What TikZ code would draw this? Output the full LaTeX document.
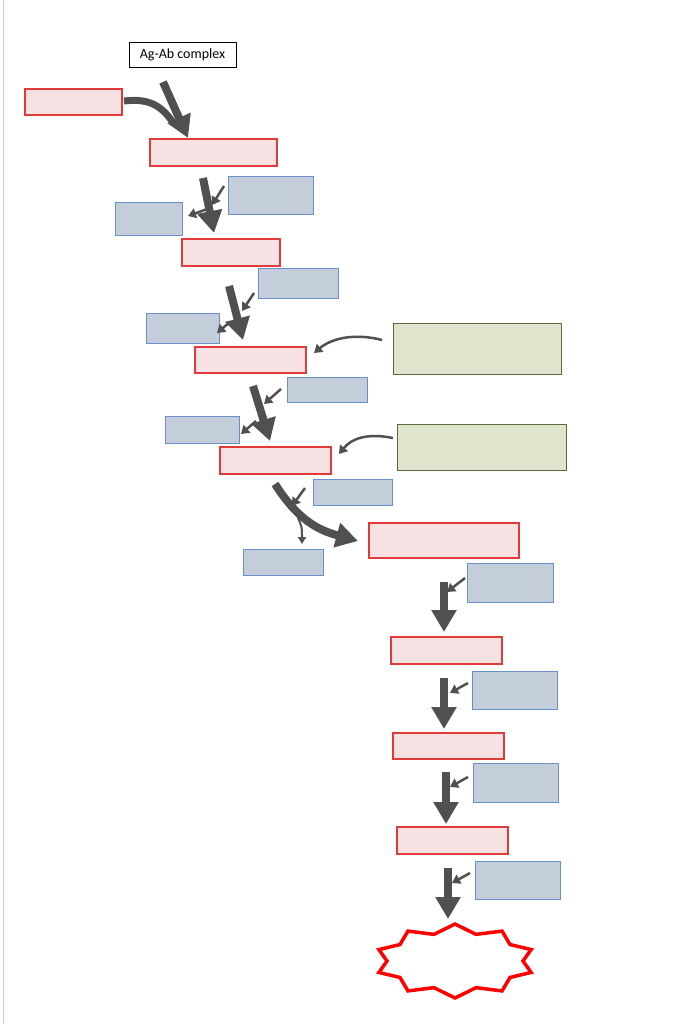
\documentclass[tikz,border=0pt]{standalone}
\usepackage{fontspec}
\setmainfont{Carlito}
\usetikzlibrary{arrows.meta}
\definecolor{rf}{HTML}{F6E2E2}\definecolor{rd}{HTML}{E03A3A}
\definecolor{bf}{HTML}{C4CDDA}\definecolor{bd}{HTML}{6A90CC}
\definecolor{gf}{HTML}{DFE4CC}\definecolor{gd}{HTML}{5B6B3B}
\definecolor{ar}{HTML}{505050}
\begin{document}
\begin{tikzpicture}[x=1pt,y=-1pt,
 rbox/.style={draw=rd,fill=rf,line width=1.2pt},
 bbox/.style={draw=bd,fill=bf,line width=1pt},
 gbox/.style={draw=gd,fill=gf,line width=1pt},
 big/.style={draw=ar,line width=8pt,-{Triangle[width=24pt,length=22pt]}},
 small/.style={draw=ar,line width=2.5pt,-{Triangle[width=10pt,length=8pt]}}]
\useasboundingbox (0,0) rectangle (692,1024);
\draw[gray!40,line width=1pt] (3,0)--(3,1024);
\node[draw,line width=0.8pt,minimum width=107pt,minimum height=25pt,inner sep=0pt,font=\fontsize{14}{16}\selectfont] (ag) at (182.5,54.5) {Ag-Ab complex};
\newcommand{\bx}[6]{\path[#1] (#3,#4) rectangle (#5,#6) coordinate (#2);}
\bx{rbox}{r1}{25}{89}{122}{115}
\bx{rbox}{r2}{150}{139}{277}{166}
\bx{bbox}{b1}{228}{177}{313}{215}
\bx{bbox}{b2}{115}{203}{182}{235}
\bx{rbox}{r3}{182}{239}{280}{266}
\bx{bbox}{b3}{258}{268}{338}{298}
\bx{bbox}{b4}{146}{313}{219}{343}
\bx{rbox}{r4}{195}{347}{306}{373}
\bx{gbox}{g1}{393}{323}{561}{374}
\bx{bbox}{b5}{287}{377}{367}{402}
\bx{bbox}{b6}{165}{416}{239}{443}
\bx{rbox}{r5}{220}{447}{331}{474}
\bx{gbox}{g2}{397}{424}{566}{470}
\bx{bbox}{b7}{313}{479}{392}{505}
\bx{rbox}{r6}{369}{523}{519}{558}
\bx{bbox}{b8}{243}{549}{323}{575}
\bx{bbox}{b9}{467}{563}{553}{602}
\bx{rbox}{r7}{391}{637}{502}{664}
\bx{bbox}{b10}{472}{671}{557}{709}
\bx{rbox}{r8}{393}{733}{504}{759}
\bx{bbox}{b11}{473}{763}{558}{802}
\bx{rbox}{r9}{397}{827}{508}{854}
\bx{bbox}{b12}{475}{861}{560}{899}
% arrows
\draw[ar,line width=7pt] (124,101) .. controls (150,98) and (162,106) .. (174,124);
\draw[big] (163,82)--(188,138);
\draw[big] (203,178)--(214,233);
\draw[small] (224,186)--(212,205);
\draw[small] (210,208)--(188,216);
\draw[big] (229,286)--(243,340);
\draw[small] (254,293)--(242,311);
\draw[small] (230,322)--(217,333);
\draw[big] (253,386)--(270,441);
\draw[small] (281,389)--(264,404);
\draw[small] (256,421)--(241,434);
\draw[small] (382,340) .. controls (355,333) and (332,338) .. (314,353);
\draw[small] (393,438) .. controls (368,433) and (352,438) .. (339,454);
\draw[ar,line width=8pt,-{Triangle[width=24pt,length=22pt]}] (275,484) .. controls (298,520) and (318,530) .. (358,541);
\draw[small] (305,488)--(292,506);
\draw[ar,line width=2pt,-{Triangle[width=8pt,length=7pt]}] (298,518) .. controls (302,527) .. (302,544);
\draw[big] (444,582)--(444,632);
\draw[small] (465,578)--(447,592);
\draw[big] (444,678)--(444,729);
\draw[small] (468,683)--(450,693);
\draw[big] (446,772)--(446,824);
\draw[small] (468,777)--(450,787);
\draw[big] (448,868)--(448,919);
\draw[small] (470,873)--(452,883);
% star
\draw[draw=red,line width=3.5pt,line join=miter]
 \foreach \k in {0,...,9}{ \ifnum\k=0 ({455+80*cos(90+36*\k)},{961-37*sin(90+36*\k)}) \else --({455+80*cos(90+36*\k)},{961-37*sin(90+36*\k)})\fi
 --({455+68*cos(108+36*\k)},{961-28*sin(108+36*\k)}) } -- cycle;
\end{tikzpicture}
\end{document}
